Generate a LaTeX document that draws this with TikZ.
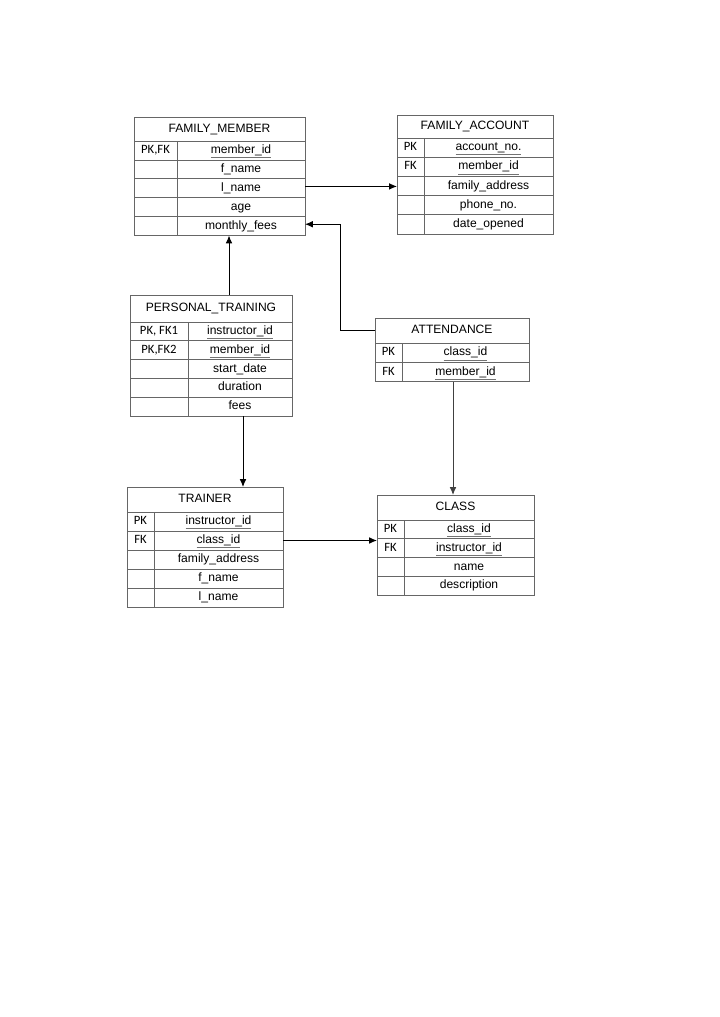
\documentclass[tikz,border=0pt]{standalone}
\usepackage{fontspec}
\setmainfont{Liberation Sans}
\newfontfamily\keyfont{Carlito}
\usetikzlibrary{arrows.meta}
\newcommand\pxu{0.8275pt}
\newcommand\ulfield[1]{{\color{black!55}\underline{\color{black}#1}}}
\tikzset{
  cellbase/.style={draw=black!60, line width=0.6pt, inner sep=0pt, outer sep=0pt, rectangle, text height=7pt, text depth=2pt},
  hdrcell/.style={cellbase, font=\fontsize{10}{12}\selectfont},
  keycell/.style={cellbase, font=\keyfont\fontsize{10.5}{12}\selectfont},
  fieldcell/.style={cellbase, font=\fontsize{10}{12}\selectfont},
  arr/.style={draw=black, line width=0.8pt, -{Latex[length=6.5pt,width=5.5pt]}},
}
% #1 name, #2 title, #3 left, #4 top, #5 right, #6 header bottom, #7 divider x, #8 row height, #9 rows
\newcommand\ertable[9]{%
  \node[hdrcell, minimum width={(#5-#3)*\pxu}, minimum height={(#6-#4)*\pxu}, anchor=north west] (#1) at (#3,#4) {#2};
  \foreach \k/\f/\uu [count=\i] in {#9} {
    \pgfmathsetmacro\ytop{#6+(\i-1)*#8}
    \node[keycell, minimum width={(#7-#3)*\pxu}, minimum height={#8*\pxu}, anchor=north west] (#1-k\i) at (#3,\ytop) {\k};
    \node[fieldcell, minimum width={(#5-#7)*\pxu}, minimum height={#8*\pxu}, anchor=north west] (#1-\i) at (#7,\ytop) {\ifnum\uu=1 \ulfield{\f}\else\f\fi};
  }%
}
\begin{document}
\begin{tikzpicture}[x=0.8275pt, y=-0.8275pt]
\useasboundingbox[fill=white] (0,0) rectangle (719,1017);

\ertable{fm}{FAMILY\_MEMBER}{134}{117}{305}{141}{177}{18.9}{{PK,FK}/member\_id/1, {}/f\_name/0, {}/l\_name/0, {}/age/0, {}/monthly\_fees/0}
\ertable{fa}{FAMILY\_ACCOUNT}{397}{115}{553}{138}{424}{19.2}{PK/account\_no./1, FK/member\_id/1, {}/family\_address/0, {}/phone\_no./0, {}/date\_opened/0}
\ertable{pt}{PERSONAL\_TRAINING}{130}{295}{292}{322}{188}{18.8}{{PK, FK1}/instructor\_id/1, {PK,FK2}/member\_id/1, {}/start\_date/0, {}/duration/0, {}/fees/0}
\ertable{att}{ATTENDANCE}{375}{318}{529}{343}{402}{19.4}{PK/class\_id/1, FK/member\_id/1}
\ertable{tr}{TRAINER}{127}{487}{283}{512}{154}{19}{PK/instructor\_id/1, FK/class\_id/1, {}/family\_address/0, {}/f\_name/0, {}/l\_name/0}
\ertable{cl}{CLASS}{377}{495}{534}{520}{404}{18.8}{PK/class\_id/1, FK/instructor\_id/1, {}/name/0, {}/description/0}

\coordinate (c1) at (229,0);
\coordinate (c2) at (340,0);
\coordinate (c3) at (453,0);
\coordinate (c4) at (243,0);

\draw[arr] ([yshift=1.5pt]fm-3.east) -- ([yshift=1.5pt]fm-3.east -| fa.west);
\draw[arr] (pt.north -| c1) -- (fm-5.south -| c1);
\draw[arr] (att.west) -- (att.west -| c2) |- ([yshift=1.5pt]fm-5.east);
\draw[arr, draw=black!75] (att-2.south -| c3) -- (cl.north -| c3);
\draw[arr] (pt-5.south -| c4) -- (tr.north -| c4);
\draw[arr] (tr-2.east) -- (tr-2.east -| cl.west);
\end{tikzpicture}
\end{document}
